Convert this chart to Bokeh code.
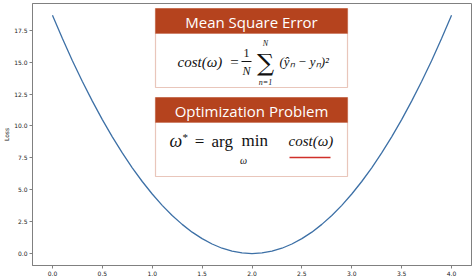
from bokeh.plotting import figure
from bokeh.models import Range1d, FixedTicker, PrintfTickFormatter, BoxAnnotation, Label
from bokeh.embed import file_html
from bokeh.resources import INLINE

# ---- data ----
w_values = [0.0, 0.1, 0.2, 0.3, 0.4, 0.5, 0.6, 0.7, 0.8, 0.9, 1.0,
            1.1, 1.2, 1.3, 1.4, 1.5, 1.6, 1.7, 1.8, 1.9, 2.0,
            2.1, 2.2, 2.3, 2.4, 2.5, 2.6, 2.7, 2.8, 2.9, 3.0,
            3.1, 3.2, 3.3, 3.4, 3.5, 3.6, 3.7, 3.8, 3.9, 4.0]
loss_values = [18.67, 16.85, 15.12, 13.49, 11.95, 10.50, 9.15, 7.89, 6.72, 5.65, 4.67,
               3.78, 2.99, 2.29, 1.68, 1.17, 0.75, 0.42, 0.19, 0.05, 0.00,
               0.05, 0.19, 0.42, 0.75, 1.17, 1.68, 2.29, 2.99, 3.78, 4.67,
               5.65, 6.72, 7.89, 9.15, 10.50, 11.95, 13.49, 15.12, 16.85, 18.67]
x_ticks = [0.0, 0.5, 1.0, 1.5, 2.0, 2.5, 3.0, 3.5, 4.0]
y_ticks = [0.0, 2.5, 5.0, 7.5, 10.0, 12.5, 15.0, 17.5]
y_label = "Loss"
box1_title = "Mean Square Error"
box2_title = "Optimization Problem"

X0, X1 = -0.2, 4.2
Y0, Y1 = -0.933, 19.6

# frame pixel geometry used for overlay placement
FL, FR, FT, FB = 30, 469, 3, 265

p = figure(frame_width=FR - FL, frame_height=FB - FT, output_backend="svg", toolbar_location=None,
           x_range=Range1d(X0, X1), y_range=Range1d(Y0, Y1),
           min_border_left=FL, min_border_right=474 - FR, min_border_top=FT,
           min_border_bottom=278 - FB)
p.background_fill_color = "white"
p.border_fill_color = "white"
p.outline_line_color = "#808080"
p.xgrid.visible = False
p.ygrid.visible = False

p.line(w_values, loss_values, line_color="#3d70a6", line_width=1.3)

for ax in (p.xaxis[0], p.yaxis[0]):
    ax.axis_line_color = "#808080"
    ax.major_tick_line_color = "#808080"
    ax.major_tick_out = 3
    ax.major_tick_in = 0
    ax.minor_tick_line_color = None
    ax.major_label_text_font = "DejaVu Sans"
    ax.major_label_text_font_size = "6px"
    ax.major_label_text_color = "#222222"
    ax.major_label_standoff = 2
    ax.formatter = PrintfTickFormatter(format="%.1f")
p.xaxis[0].ticker = FixedTicker(ticks=x_ticks)
p.yaxis[0].ticker = FixedTicker(ticks=y_ticks)
p.yaxis[0].axis_label = y_label
p.yaxis[0].axis_label_text_font = "DejaVu Sans"
p.yaxis[0].axis_label_text_font_size = "6px"
p.yaxis[0].axis_label_text_font_style = "normal"
p.yaxis[0].axis_label_text_color = "#222222"
p.yaxis[0].axis_label_standoff = 1

def dx(px):
    return X0 + (px - FL) / (FR - FL) * (X1 - X0)
def dy(py):
    return Y1 - (py - FT) / (FB - FT) * (Y1 - Y0)

RED = "#b5431e"
SERIF = "Liberation Serif"

def panel(top, head_bottom, bottom, left=153, right=345):
    p.add_layout(BoxAnnotation(left=dx(left), right=dx(right), top=dy(top), bottom=dy(bottom),
                               fill_color="white", fill_alpha=1.0, line_color=RED, line_width=1.2))
    p.add_layout(BoxAnnotation(left=dx(left), right=dx(right), top=dy(top), bottom=dy(head_bottom),
                               fill_color=RED, fill_alpha=1.0, line_color=RED, line_width=1.2))

def lab(px, py, text, size, color="#111111", font=SERIF, style="normal", align="left"):
    p.add_layout(Label(x=dx(px), y=dy(py), text=text, text_font=font, text_font_size=size,
                       text_font_style=style, text_color=color, text_align=align,
                       text_baseline="middle"))

# panel 1
panel(8, 33, 87)
lab(249, 21, box1_title, "15px", color="white", font="Open Sans", align="center")
lab(175, 61, "cost(ω)", "15px", style="italic")
lab(232, 61, "=", "15px", align="center")
lab(244, 52, "1", "12px", align="center")
p.add_layout(BoxAnnotation(left=dx(239), right=dx(249), top=dy(60.5), bottom=dy(61.5),
                           fill_color="#111111", fill_alpha=1.0, line_color=None))
lab(244, 70, "N", "12px", style="italic", align="center")
lab(263, 62, "∑", "24px", font="DejaVu Serif", align="center")
lab(263, 43, "N", "8px", style="italic", align="center")
lab(263, 82, "n=1", "8px", style="italic", align="center")
lab(277, 61, "(ŷₙ − yₙ)²", "13px", style="italic")

# panel 2
panel(97, 122, 176)
lab(167, 140, "ω", "18px", style="italic")
lab(180, 136, "*", "11px")
lab(249, 110, box2_title, "15px", color="white", font="Open Sans", align="center")
lab(197, 141, "=", "17px", align="center")
lab(209, 141, "arg", "17px")
lab(239, 140, "min", "17px")
lab(241, 160, "ω", "10px", style="italic", align="center")
lab(286, 140, "cost(ω)", "15px", style="italic")
p.add_layout(BoxAnnotation(left=dx(287), right=dx(328), top=dy(156.3), bottom=dy(157.7),
                           fill_color="#d0302a", fill_alpha=1.0, line_color=None))

open("out.html", "w").write(file_html(p, INLINE))
